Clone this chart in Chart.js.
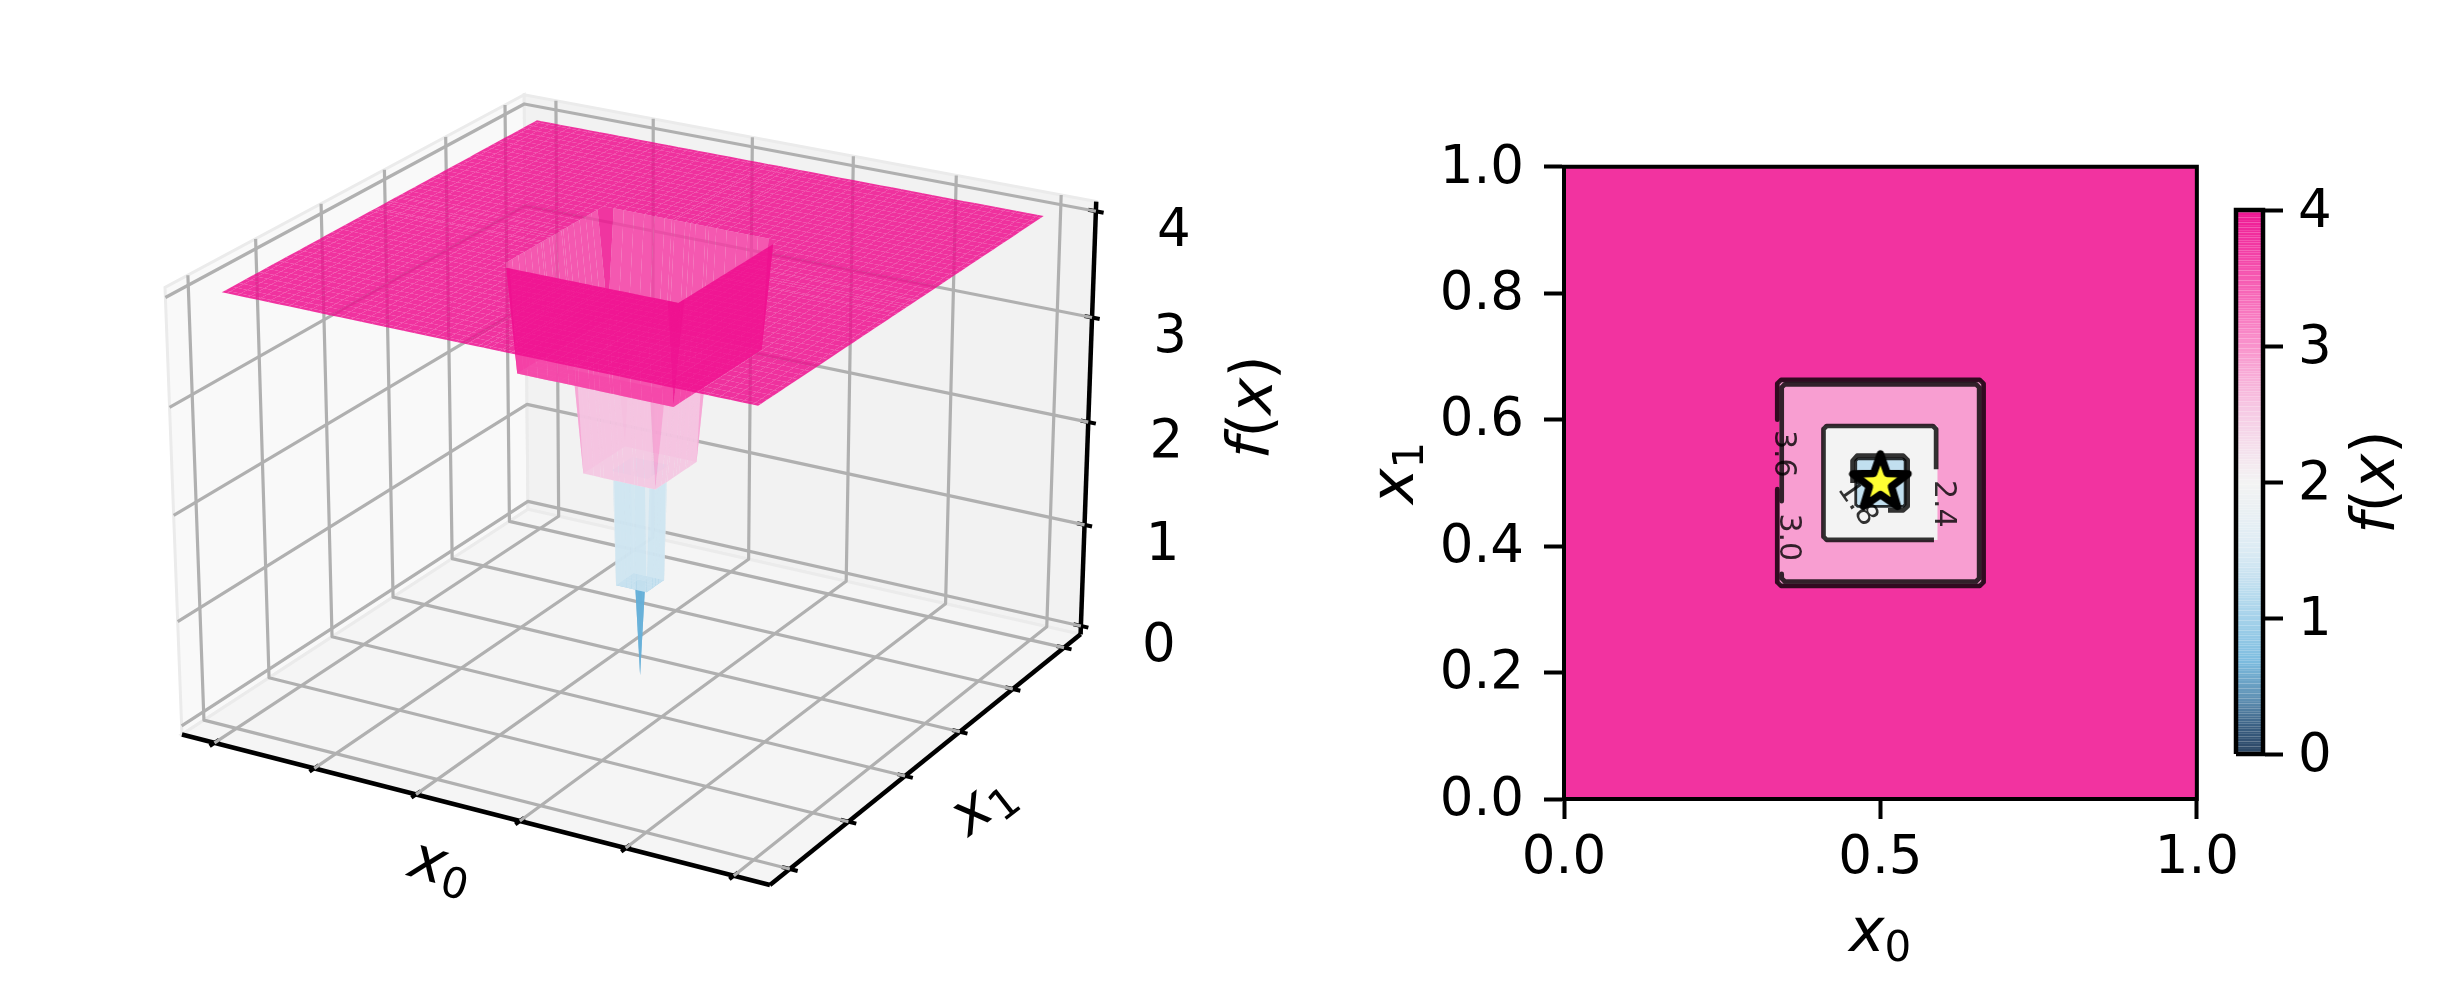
<!DOCTYPE html>
<html><head><meta charset="utf-8">
<script src="https://cdn.jsdelivr.net/npm/chart.js@4"></script>
<style>html,body{margin:0;padding:0;background:#fff;width:2438px;height:993px;overflow:hidden}canvas{position:absolute}</style>
</head><body>
<canvas id="surf" width="1330" height="993" style="left:0;top:0;width:1330px;height:993px"></canvas>
<canvas id="map" width="907" height="878" style="left:1340px;top:115px;width:907px;height:878px"></canvas>
<canvas id="cbar" width="248" height="833" style="left:2190px;top:160px;width:248px;height:833px"></canvas>
<script>
// ---------- data ----------
const surfaceHalfWidths = [0.004, 0.032, 0.08, 0.16, Infinity];
const surfaceLevels = [0, 0.9, 2.0, 3.0, 4.0];
const surfaceColourMax = 3.78;
const mapHalfWidths = [0.039, 0.0905, 0.16, 0.5];
const mapLevels = [1.25, 2.0, 2.9, 3.78];
const boxTicks = [0, 0.2, 0.4, 0.6, 0.8, 1.0];
const zTicks = [0, 1, 2, 3, 4];
const mapXTicks = [0, 0.5, 1];
const mapYTicks = [0, 0.2, 0.4, 0.6, 0.8, 1.0];
const cbarTicks = [0, 1, 2, 3, 4];
const optimum = [{x: 0.5, y: 0.5}];
const contour36 = [[.337,.49],[.337,.343],[.343,.337],[.657,.337],[.663,.343],[.663,.657],[.657,.663],[.343,.663],[.337,.657],[.337,.60]];
const contour30 = [[.344,.356],[.344,.349],[.349,.344],[.651,.344],[.656,.349],[.656,.651],[.651,.656],[.349,.656],[.344,.651],[.344,.471]];
const contour24 = [[.588,.5216],[.588,.585],[.583,.59],[.415,.59],[.41,.585],[.41,.415],[.415,.41],[.5846,.41]];
const contour18 = [[.456,.50],[.456,.535],[.463,.543],[.536,.543],[.543,.536],[.543,.463],[.536,.4566],[.512,.4566]];
const contour12 = [[.461,.464],[.461,.535],[.464,.538],[.536,.538],[.539,.535],[.539,.466],[.536,.463],[.464,.463],[.461,.466]];
const contourLabels = [
  {text:'3.6', x:.345, y:.546, rot:90},
  {text:'3.0', x:.353, y:.414, rot:90},
  {text:'2.4', x:.599, y:.467, rot:90},
  {text:'1.8', x:.463, y:.467, rot:55}
];
// colour map as seen on the colour bar
const colorStops = [[0,[43,69,99]],[.2,[58,95,130]],[.4,[94,143,178]],[.69,[126,189,224]],[1,[165,210,234]],[1.5,[220,235,244]],[2,[243,243,243]],[2.5,[246,204,229]],[3,[249,147,204]],[3.5,[246,90,178]],[4,[238,20,146]]];

// ---------- helpers ----------
const FONT = '"DejaVu Sans"';
const TICKFONT = 53;
Chart.defaults.animation = false;
Chart.defaults.font.family = 'DejaVu Sans';
Chart.defaults.color = '#000';
function cmap(v){
  v = Math.max(0, Math.min(4, v));
  for (let i = 1; i < colorStops.length; i++) {
    const [a, ca] = colorStops[i-1], [b, cb] = colorStops[i];
    if (v <= b) { const t = (v-a)/(b-a); return ca.map((c,k)=>c+(cb[k]-c)*t); }
  }
  return colorStops[colorStops.length-1][1];
}
const css = c => `rgb(${c.map(Math.round).join(',')})`;
function mathText(ctx, segs, cx, cy, size, rotDeg){
  ctx.save(); ctx.translate(cx, cy); ctx.rotate(rotDeg*Math.PI/180);
  ctx.fillStyle = '#000'; ctx.textAlign = 'left'; ctx.textBaseline = 'alphabetic';
  const fontOf = s => `${s.italic?'italic ':''}${s.sub?size*0.7:size}px ${FONT}`;
  let tot = 0; segs.forEach(s => { ctx.font = fontOf(s); tot += ctx.measureText(s.t).width; });
  let x = -tot/2;
  segs.forEach(s => { ctx.font = fontOf(s); ctx.fillText(s.t, x, size*0.3 + (s.sub?size*0.16:0)); x += ctx.measureText(s.t).width; });
  ctx.restore();
}
const X0 = [{t:'x',italic:true},{t:'0',sub:true}];
const X1 = [{t:'x',italic:true},{t:'1',sub:true}];
const FX = [{t:'f',italic:true},{t:'('},{t:'x',italic:true},{t:')'}];
const segLine = (pts, color, width, extra) => Object.assign({type:'scatter', showLine:true, data:pts, borderColor:color, borderWidth:width, pointRadius:0, fill:false, tension:0, clip:false, borderCapStyle:'butt', borderJoinStyle:'round'}, extra||{});

// ---------- 3D projection ----------
const xLim=[-0.066,1.066], yLim=[-0.066,1.066], zLim=[-0.083,4.09];
const elev=23.5*Math.PI/180, azim=-60*Math.PI/180, camDist=10;
const k3=1.8294640721620434*25/24/Math.sqrt(41), box=[4*k3,4*k3,3*k3];
const p3=[Math.cos(elev)*Math.cos(azim),Math.cos(elev)*Math.sin(azim),Math.sin(elev)];
const eye=box.map((b,i)=>b/2+camDist*p3[i]);
const cross=(a,b)=>[a[1]*b[2]-a[2]*b[1],a[2]*b[0]-a[0]*b[2],a[0]*b[1]-a[1]*b[0]];
const dot=(a,b)=>a[0]*b[0]+a[1]*b[1]+a[2]*b[2];
const unit=a=>{const n=Math.sqrt(dot(a,a));return a.map(c=>c/n)};
const uAxis=unit(cross([0,0,1],p3)), vAxis=cross(p3,uAxis);
function project(x,y,z){
  const P=[(x-xLim[0])/(xLim[1]-xLim[0])*box[0],(y-yLim[0])/(yLim[1]-yLim[0])*box[1],(z-zLim[0])/(zLim[1]-zLim[0])*box[2]];
  const d=P.map((c,i)=>c-eye[i]);
  const Z=dot(p3,d);
  return {x:dot(uAxis,d)/-Z, y:dot(vAxis,d)/-Z, depth:Z};
}
// window of the hidden scales, fitted on the box corners of the picture
const pxK=2438/1568;
const anchors=[[0,0,0,120,473],[1,0,0,493,566],[1,1,0,694,410],[1,1,1,708,130],[0,1,1,335.5,56],[0,0,1,105,190]];
function fit(xs,ys){const n=xs.length,mx=xs.reduce((a,b)=>a+b)/n,my=ys.reduce((a,b)=>a+b)/n;let s=0,t=0;xs.forEach((x,i)=>{s+=(x-mx)*(ys[i]-my);t+=(x-mx)*(x-mx)});const a=s/t;return [a,my-a*mx];}
const anchorP=anchors.map(a=>project(xLim[a[0]],yLim[a[1]],zLim[a[2]]));
const [ax,bx]=fit(anchorP.map(p=>p.x),anchors.map(a=>a[3]*pxK));
const [ay,by]=fit(anchorP.map(p=>p.y),anchors.map(a=>a[4]*pxK));
const W3=1330,H3=993;

// surface grid: sample offsets from the middle of the square
const gridOffsets=[0,0.036];
for(let k=0;k<25;k++) gridOffsets.push(0.01+0.02*k);
gridOffsets.push(0.5);
const grid=[...new Set(gridOffsets.flatMap(o=>[+(0.5-o).toFixed(4),+(0.5+o).toFixed(4)]))].sort((a,b)=>a-b);
function surfaceValue(x,y){
  const d=Math.max(Math.abs(x-.5),Math.abs(y-.5));
  for(let i=0;i<surfaceHalfWidths.length;i++) if(d<=surfaceHalfWidths[i]) return surfaceLevels[i];
}
const surfAlpha=0.85;
const surfVerts=[], polys=[];
for(let i=0;i<grid.length-1;i++) for(let j=0;j<grid.length-1;j++){
  const c=[[grid[i],grid[j]],[grid[i+1],grid[j]],[grid[i+1],grid[j+1]],[grid[i],grid[j+1]]];
  const zs=c.map(q=>surfaceValue(q[0],q[1]));
  const pr=c.map((q,n)=>project(q[0],q[1],zs[n]));
  const avg=Math.min(surfaceColourMax,(zs[0]+zs[1]+zs[2]+zs[3])/4);
  const raw=cmap(avg).map(v=>Math.max(0,(v-255*(1-surfAlpha))/surfAlpha));
  pr.forEach(p=>surfVerts.push({x:p.x,y:p.y}));
  polys.push({pts:pr,depth:(pr[0].depth+pr[1].depth+pr[2].depth+pr[3].depth)/4,color:`rgba(${raw.map(Math.round).join(',')},${surfAlpha})`});
}
polys.sort((a,b)=>a.depth-b.depth);

// panes, grid, axes
const [xa,xb]=xLim,[ya,yb]=yLim,[za,zb]=zLim;
const panes=[
 {c:'#f9f9f9',pts:[[xa,ya,za],[xa,yb,za],[xa,yb,zb],[xa,ya,zb]]},
 {c:'#f2f2f2',pts:[[xa,yb,za],[xb,yb,za],[xb,yb,zb],[xa,yb,zb]]},
 {c:'#f5f5f5',pts:[[xa,ya,za],[xb,ya,za],[xb,yb,za],[xa,yb,za]]}
].map(p=>({c:p.c,pts:p.pts.map(q=>project(q[0],q[1],q[2]))}));
const P3=(arr)=>arr.map(q=>{const p=project(q[0],q[1],q[2]);return {x:p.x,y:p.y}});
const GRIDC='#b0b0b0', GW=3.2;
const ds3=[];
boxTicks.forEach(t=>ds3.push(segLine(P3([[t,ya,za],[t,yb,za],[t,yb,zb]]),GRIDC,GW)));
boxTicks.forEach(t=>ds3.push(segLine(P3([[xb,t,za],[xa,t,za],[xa,t,zb]]),GRIDC,GW)));
zTicks.forEach(t=>ds3.push(segLine(P3([[xa,ya,t],[xa,yb,t],[xb,yb,t]]),GRIDC,GW)));
ds3.push(segLine(P3([[xa,ya,za],[xb,ya,za]]),'#000',4.5));
ds3.push(segLine(P3([[xb,ya,za],[xb,yb,za]]),'#000',4.5));
ds3.push(segLine(P3([[xb,yb,za],[xb,yb,zb]]),'#000',4.5));
const tIn=0.0145,tOut=0.0145;
boxTicks.forEach(t=>ds3.push(segLine(P3([[t,ya-tOut,za],[t,ya+tIn,za]]),'#000',4)));
boxTicks.forEach(t=>ds3.push(segLine(P3([[xb+tOut,t,za],[xb-tIn,t,za]]),'#000',4)));
zTicks.forEach(t=>ds3.push(segLine(P3([[xb+tOut,yb,t],[xb-tIn,yb,t]]),'#000',4)));
ds3.push({type:'scatter',label:'f(x)',data:surfVerts,showLine:false,pointRadius:0,pointHoverRadius:0});

const surfacePlugin={id:'surfacePlugin',
 beforeDatasetsDraw(ch){
  const c=ch.ctx,sx=ch.scales.x,sy=ch.scales.y;
  panes.forEach(p=>{c.beginPath();p.pts.forEach((q,i)=>{const X=sx.getPixelForValue(q.x),Y=sy.getPixelForValue(q.y);i?c.lineTo(X,Y):c.moveTo(X,Y)});c.closePath();c.fillStyle=p.c;c.fill();c.strokeStyle='#ebebeb';c.lineWidth=3;c.stroke();});
 },
 afterDatasetsDraw(ch){
  const c=ch.ctx,sx=ch.scales.x,sy=ch.scales.y;
  polys.forEach(p=>{c.beginPath();p.pts.forEach((q,i)=>{const X=sx.getPixelForValue(q.x),Y=sy.getPixelForValue(q.y);i?c.lineTo(X,Y):c.moveTo(X,Y)});c.closePath();c.fillStyle=p.color;c.fill();});
  c.save();c.fillStyle='#000';c.font=`${TICKFONT}px ${FONT}`;c.textAlign='center';c.textBaseline='middle';
  zTicks.forEach(t=>{const p=project(xb,yb,t);c.fillText(String(t),sx.getPixelForValue(p.x)+78,sy.getPixelForValue(p.y)+21);});
  c.restore();
  mathText(c,X0,441,866,60,15);
  mathText(c,X1,982,804,60,-38);
  mathText(c,FX,1253,407,60,-87);
 }};

new Chart(document.getElementById('surf'),{type:'scatter',data:{datasets:ds3},plugins:[surfacePlugin],options:{
 responsive:false,devicePixelRatio:1,layout:{padding:0},
 plugins:{legend:{display:false},tooltip:{enabled:false},title:{display:false}},
 scales:{x:{type:'linear',display:false,min:(0-bx)/ax,max:(W3-bx)/ax},
         y:{type:'linear',display:false,min:(H3-by)/ay,max:(0-by)/ay}}
}});

// ---------- right panel ----------
const xy=a=>a.map(q=>({x:q[0],y:q[1]}));
const starCanvas=document.createElement('canvas');starCanvas.width=starCanvas.height=90;
(function(){const c=starCanvas.getContext('2d');c.translate(45,45);c.beginPath();
 for(let i=0;i<10;i++){const r=i%2?29*0.40:29,a=-Math.PI/2+i*Math.PI/5;c.lineTo(r*Math.cos(a),r*Math.sin(a));}
 c.closePath();c.fillStyle='#ffff33';c.fill();c.lineJoin='round';c.lineWidth=7.5;c.strokeStyle='#000';c.stroke();})();
const CONT='rgba(0,0,0,0.8)';
const dsMap=[];
dsMap.push({type:'scatter',label:'optimum',data:optimum,pointStyle:starCanvas,pointRadius:12,showLine:false,clip:false});
dsMap.push(segLine(xy([[0,0],[1,0],[1,1],[0,1],[0,0]]),'#000',4,{borderJoinStyle:'miter'}));
dsMap.push(segLine(xy(contour12),CONT,2.8));
dsMap.push(segLine(xy(contour18),CONT,4.7));
dsMap.push(segLine(xy(contour24),CONT,4.7));
dsMap.push(segLine(xy(contour30),CONT,4.7));
dsMap.push(segLine(xy(contour36),CONT,4.7));
mapHalfWidths.forEach((h,i)=>{
  dsMap.push({type:'scatter',showLine:true,pointRadius:0,borderWidth:0,data:[{x:.5-h,y:.5+h},{x:.5+h,y:.5+h}],fill:{value:.5-h},backgroundColor:css(cmap(mapLevels[i]))});
});
const labelPlugin={id:'labelPlugin',
 beforeDatasetDraw(ch,args){
  if(ch.data.datasets[args.index].label!=='optimum')return;
  const c=ch.ctx;
  contourLabels.forEach(l=>{c.save();c.translate(ch.scales.x.getPixelForValue(l.x),ch.scales.y.getPixelForValue(l.y));c.rotate(l.rot*Math.PI/180);c.font=`30px ${FONT}`;c.fillStyle='rgba(0,0,0,0.8)';c.textAlign='center';c.textBaseline='middle';c.fillText(l.text,0,0);c.restore();});
 },
 afterDraw(ch){
  mathText(ch.ctx,X0,1880-1340,933-115,60,0);
  mathText(ch.ctx,X1,1395-1340,473-115,60,-90);
 }};
new Chart(document.getElementById('map'),{type:'scatter',data:{datasets:dsMap},plugins:[labelPlugin],options:{
 responsive:false,devicePixelRatio:1,layout:{padding:{left:0,top:50,right:50,bottom:0}},
 plugins:{legend:{display:false},tooltip:{enabled:false}},
 scales:{
  x:{type:'linear',min:0,max:1,afterBuildTicks(s){s.ticks=mapXTicks.map(v=>({value:v}))},afterFit(s){s.height=194},
     ticks:{font:{size:TICKFONT},color:'#000',padding:8,maxRotation:0,autoSkip:false,callback:v=>v.toFixed(1)},
     grid:{drawOnChartArea:false,tickLength:20,tickWidth:4,tickColor:'#000'},border:{width:4,color:'#000'}},
  y:{type:'linear',min:0,max:1,afterBuildTicks(s){s.ticks=mapYTicks.map(v=>({value:v}))},afterFit(s){s.width=224},
     ticks:{font:{size:TICKFONT},color:'#000',padding:20,labelOffset:2,autoSkip:false,callback:v=>v.toFixed(1)},
     grid:{drawOnChartArea:false,tickLength:20,tickWidth:4,tickColor:'#000'},border:{width:4,color:'#000'}}
 }
}});

// ---------- colour bar ----------
const dsBar=[segLine(xy([[0,0],[1,0],[1,4],[0,4],[0,0]]),'#000',4.5,{borderJoinStyle:'miter'})];
const nStrips=216;
for(let i=0;i<nStrips;i++){
  const lo=4*i/nStrips,hi=4*(i+1)/nStrips;
  dsBar.push({type:'scatter',showLine:true,pointRadius:0,borderWidth:0,data:[{x:0,y:hi},{x:1,y:hi}],fill:{value:lo},backgroundColor:css(cmap((lo+hi)/2))});
}
const cbarPlugin={id:'cbarPlugin',afterDraw(ch){mathText(ch.ctx,FX,2376-2190,482-160,60,-90);}};
new Chart(document.getElementById('cbar'),{type:'scatter',data:{datasets:dsBar},plugins:[cbarPlugin],options:{
 responsive:false,devicePixelRatio:1,layout:{padding:{left:46,top:50,right:0,bottom:239}},
 plugins:{legend:{display:false},tooltip:{enabled:false}},
 scales:{
  x:{type:'linear',display:false,min:0,max:1},
  y:{type:'linear',position:'right',min:0,max:4,afterBuildTicks(s){s.ticks=cbarTicks.map(v=>({value:v}))},afterFit(s){s.width=175},
     ticks:{font:{size:TICKFONT},color:'#000',padding:15,labelOffset:3,autoSkip:false,callback:v=>String(v)},
     grid:{drawOnChartArea:false,tickLength:20,tickWidth:4,tickColor:'#000'},border:{width:4,color:'#000'}}
 }
}});
</script>
</body></html>
